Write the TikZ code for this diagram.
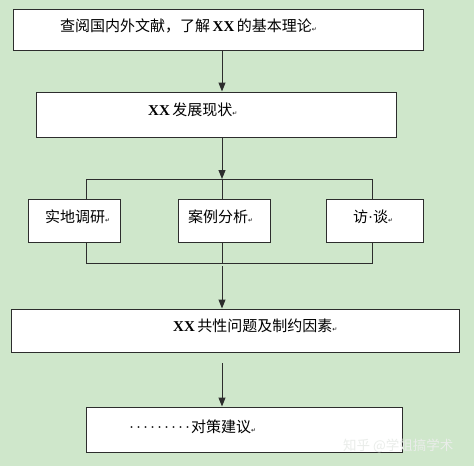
\documentclass[tikz,border=0pt]{standalone}
\usepackage{fontspec}
\setmainfont{Liberation Serif}
\newfontfamily\cjk{Noto Sans CJK SC}
\newfontfamily\symfont{DejaVu Sans}
\usetikzlibrary{arrows.meta,positioning}
\definecolor{bgGreen}{RGB}{207,231,203}
\definecolor{lineGray}{RGB}{45,45,45}
\definecolor{markGray}{RGB}{234,237,234}
\tikzset{
	box/.style={draw=lineGray, line width=1pt, fill=white, inner sep=0pt},
	lbl/.style={font=\cjk\fontsize{15}{18}\selectfont, inner sep=0pt, text=black},
	arr/.style={-{Triangle[length=9pt,width=7pt]}, draw=lineGray, line width=1pt},
	bar/.style={draw=lineGray, line width=1pt}
}
\newcommand{\pmark}{{\symfont\fontsize{6}{6}\selectfont ↵}}
\newcommand{\XX}{{\rmfamily\bfseries XX}}
\newcommand{\ldot}{\makebox[7pt]{\rmfamily ·}}

\begin{document}
\begin{tikzpicture}[x=1pt, y=-1pt]
			\useasboundingbox[fill=bgGreen] (0,0) rectangle (474,466);
			%
			\node[box, minimum width=410, minimum height=41]	(lit)		at (218,29.5)		{};
			\node[box, minimum width=360, minimum height=45]	(stat)	at (216,114.5)	{};
			\node[box, minimum width=92, minimum height=43]		(field)	at (74,220.5)		{};
			\node[box, minimum width=92, minimum height=43]		(case)	at (224,220.5)	{};
			\node[box, minimum width=97, minimum height=43]		(talk)	at (374.5,220.5)	{};
			\node[box, minimum width=448, minimum height=43]	(issue)	at (235,330.5)	{};
			\node[box, minimum width=316, minimum height=45]	(plan)	at (244,429.5)	{};
			%
			\node[lbl, anchor=west] (litT)		at (60,26)		{查阅国内外文献，了解\,\XX\,的基本理论\pmark};
			\node[lbl, anchor=west] (statT)		at (148,110)	{\XX\,发展现状\pmark};
			\node[lbl, anchor=west] (fieldT)	at (45,217)		{实地调研\pmark};
			\node[lbl, anchor=west] (caseT)		at (188,217)	{案例分析\pmark};
			\node[lbl, anchor=west] (talkT)		at (353,217)	{访{\rmfamily·}谈\pmark};
			\node[lbl, anchor=west] (issueT)	at (173,326)	{\XX\,共性问题及制约因素\pmark};
			\node[lbl, anchor=west] (planT)		at (128,427)	{\ldot\ldot\ldot\ldot\ldot\ldot\ldot\ldot\ldot 对策建议\pmark};
			%
			\coordinate (axis)	at (222,0);
			\coordinate (topL)	at (86,179);
			\coordinate (topR)	at (372,179);
			\coordinate (botL)	at (86,263);
			\coordinate (botR)	at (372,263);
			\coordinate (join)	at (222,266);
			\coordinate (gap)		at (222,363);
			%
			\draw[arr]	(lit.south -| axis)		to (stat.north -| axis);
			\draw[arr]	(stat.south -| axis)	to (topL -| axis);
			\draw[bar]	(topL) -- (topR);
			\draw[bar]	(topL) -- (topL |- field.north);
			\draw[bar]	(topL -| axis) -- (case.north -| axis);
			\draw[bar]	(topR) -- (topR |- talk.north);
			\draw[bar]	(botL |- field.south) -- (botL) -- (botR) -- (botR |- talk.south);
			\draw[bar]	(case.south -| axis) -- (botL -| axis);
			\draw[arr]	(join)	to (issue.north -| axis);
			\draw[arr]	(gap)		to (plan.north -| axis);
			%
			\node[font=\cjk\fontsize{13.5}{15}\selectfont, text=markGray, anchor=west, inner sep=0pt] (mark) at (343,446) {知乎 @学姐搞学术};
		\end{tikzpicture}
\end{document}
